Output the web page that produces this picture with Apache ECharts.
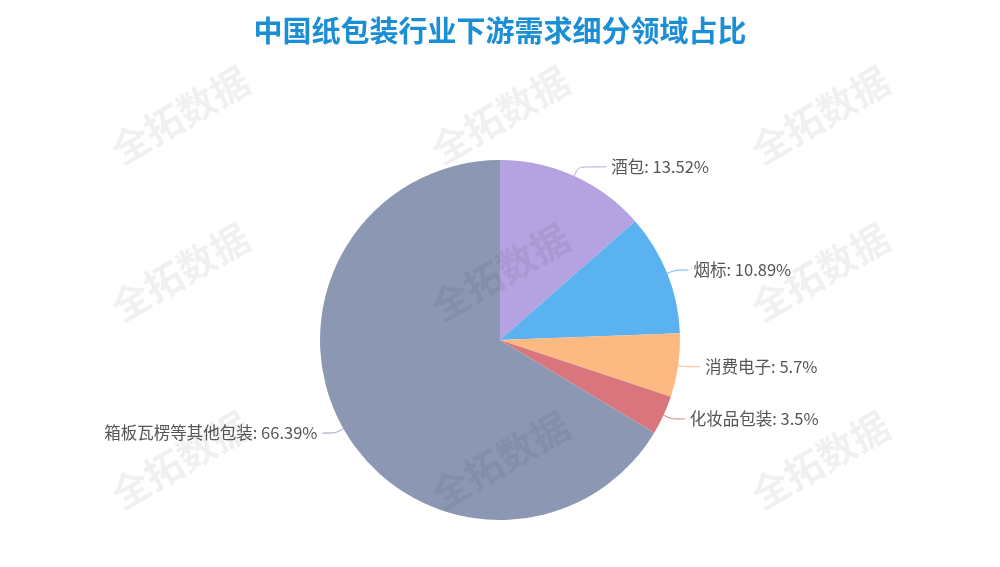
<!DOCTYPE html>
<html><head><meta charset="utf-8">
<script src="https://cdn.jsdelivr.net/npm/echarts@6/dist/echarts.min.js"></script>
<style>html,body{margin:0;padding:0;background:#fff}#c{width:1000px;height:567px}</style>
</head><body><div id="c"></div>
<script>
const categories = ['酒包', '烟标', '消费电子', '化妆品包装', '箱板瓦楞等其他包装'];
const values = [13.52, 10.89, 5.7, 3.5, 66.39];
const colors = ['#b5a2e0', '#5bb2f1', '#fdb982', '#d9757d', '#8c98b3'];
const wmPos = [[180,115],[500,115],[820,115],[180,272],[500,272],[820,272],[180,460],[500,460],[820,460]];

const chart = echarts.init(document.getElementById('c'));
chart.setOption({
  backgroundColor: '#fff',
  title: {
    text: '中国纸包装行业下游需求细分领域占比',
    left: 'center', top: 11,
    textStyle: { color: '#1b8fd6', fontSize: 29, fontWeight: 'bold', fontFamily: 'Noto Sans CJK SC' }
  },
  graphic: wmPos.map(p => ({
    type: 'text', x: p[0], y: p[1], rotation: Math.PI / 6, z: 100,
    style: { text: '全拓数据', fill: 'rgba(0,0,0,0.06)', font: 'bold 38px "Noto Sans CJK SC"', align: 'center', verticalAlign: 'middle' }
  })),
  series: [{
    type: 'pie',
    center: [500, 340],
    radius: 180,
    startAngle: 90,
    clockwise: true,
    data: categories.map((c, i) => ({
      name: c, value: values[i], itemStyle: { color: colors[i] },
      labelLine: i === 0 ? { length: 10, length2: 28 } : undefined
    })),
    label: {
      formatter: '{b}: {c}%',
      color: '#555', fontSize: 16.5, fontFamily: 'Noto Sans CJK SC'
    },
    labelLine: { length: 9, length2: 13, smooth: 0.3, lineStyle: { width: 1 } }
  }]
});
</script></body></html>
